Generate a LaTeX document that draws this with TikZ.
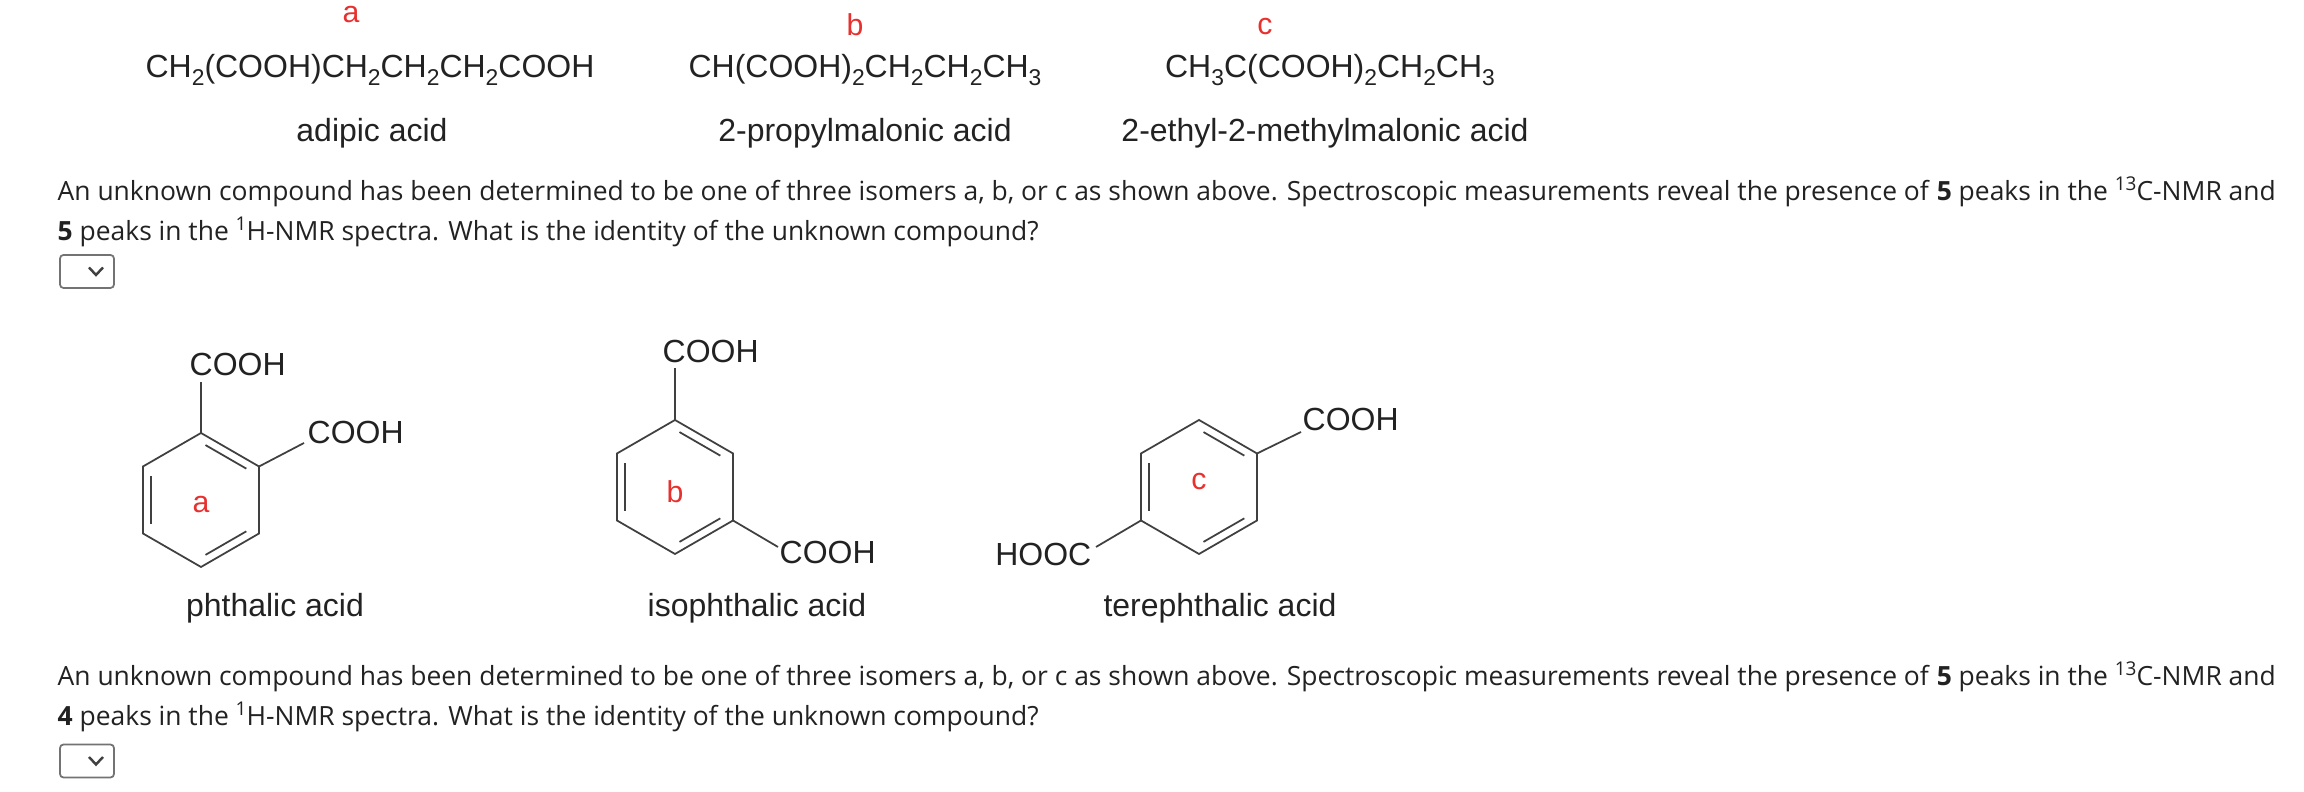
\documentclass[tikz,border=0pt]{standalone}
\usepackage{fontspec}
\setmainfont{Open Sans}
\newfontfamily\chemfont{Liberation Sans}
\usepackage{tikz}
\usetikzlibrary{calc}
\definecolor{txt}{HTML}{222222}
\definecolor{lbl}{HTML}{E8312F}
\newcommand{\chsub}[1]{\raisebox{-0.45ex}{\fontsize{6.5}{7}\selectfont #1}}
\newcommand{\chsup}[1]{\raisebox{0.75ex}{\fontsize{5.4}{6}\selectfont #1}}

\tikzset{
  chem/.style={font=\chemfont\fontsize{9.1}{11}\selectfont, text=txt, inner sep=0pt},
  para/.style={font=\fontsize{7.52}{10}\selectfont, text=txt, anchor=west, inner sep=0pt},
  tag/.style={font=\chemfont\fontsize{8.6}{10}\selectfont, text=lbl, inner sep=0pt},
  bond/.style={line width=0.5pt, draw=black!75},
  dropbox/.style={draw=black!55, rounded corners=1pt, line width=0.5pt, minimum width=0.54cm, minimum height=0.33cm, inner sep=0pt}
}

\begin{document}
\begin{tikzpicture}
\useasboundingbox[fill=white] (0,0) rectangle (23.04,7.92);

% top row: chains
\node[tag] (ta) at (3.51,7.77) {a};
\node[tag] (tb) at (8.55,7.67) {b};
\node[tag] (tc) at (12.65,7.65) {c};

\node[chem] (fa) at (3.70,7.22) {CH\chsub{2}(COOH)CH\chsub{2}CH\chsub{2}CH\chsub{2}COOH};
\node[chem] (fb) at (8.65,7.22) {CH(COOH)\chsub{2}CH\chsub{2}CH\chsub{2}CH\chsub{3}};
\node[chem] (fc) at (13.30,7.22) {CH\chsub{3}C(COOH)\chsub{2}CH\chsub{2}CH\chsub{3}};

\node[chem] (na) at (3.72,6.59) {adipic acid};
\node[chem] (nb) at (8.65,6.59) {2-propylmalonic acid};
\node[chem] (nc) at (13.25,6.59) {2-ethyl-2-methylmalonic acid};

\node[para] (q1a) at (0.57,6.00) {An unknown compound has been determined to be one of three isomers a, b, or c as shown above. Spectroscopic measurements reveal the presence of \textbf{5} peaks in the \chsup{13}C-NMR and};
\node[para] (q1b) at (0.57,5.60) {\textbf{5} peaks in the \chsup{1}H-NMR spectra. What is the identity of the unknown compound?};
\node[dropbox] (box1) at (0.87,5.205) {};
\draw[bond, line width=0.7pt] ($(box1.center)+(0.02,0.04)$) -- ($(box1.center)+(0.09,-0.035)$) -- ($(box1.center)+(0.16,0.04)$);

% rings
\begin{scope}[shift={(2.01,2.92)}] {
\def\r{0.67}
\draw[bond] (90:\r)--(30:\r)--(-30:\r)--(-90:\r)--(-150:\r)--(150:\r)--cycle;
\foreach \s/\e in {90/30,-30/-90,-150/150}
  \draw[bond] ($(\s:0.575)!0.09!(\e:0.575)$) -- ($(\e:0.575)!0.09!(\s:0.575)$);
\node[tag] (ra) at (0,-0.05) {a};
\node[chem, anchor=west] (ca1) at (-0.12,1.35) {COOH};
\node[chem, anchor=west] (ca2) at (1.06,0.67) {COOH};
\coordinate (va1) at (90:\r);
\coordinate (va2) at (30:\r);
\draw[bond] (va1) -- (0,1.18);
\draw[bond] (va2) -- (1.03,0.57);
}\end{scope}

\begin{scope}[shift={(6.75,3.05)}] {
\def\r{0.67}
\draw[bond] (90:\r)--(30:\r)--(-30:\r)--(-90:\r)--(-150:\r)--(150:\r)--cycle;
\foreach \s/\e in {90/30,-30/-90,-150/150}
  \draw[bond] ($(\s:0.575)!0.09!(\e:0.575)$) -- ($(\e:0.575)!0.09!(\s:0.575)$);
\node[tag] (rb) at (0,-0.05) {b};
\node[chem, anchor=west] (cb1) at (-0.13,1.35) {COOH};
\node[chem, anchor=west] (cb2) at (1.04,-0.66) {COOH};
\coordinate (vb1) at (90:\r);
\coordinate (vb2) at (-30:\r);
\draw[bond] (vb1) -- (0,1.19);
\draw[bond] (vb2) -- (1.03,-0.60);
}\end{scope}

\begin{scope}[shift={(11.99,3.05)}] {
\def\r{0.67}
\draw[bond] (90:\r)--(30:\r)--(-30:\r)--(-90:\r)--(-150:\r)--(150:\r)--cycle;
\foreach \s/\e in {90/30,-30/-90,-150/150}
  \draw[bond] ($(\s:0.575)!0.09!(\e:0.575)$) -- ($(\e:0.575)!0.09!(\s:0.575)$);
\node[tag] (rc) at (0,0.05) {c};
\node[chem, anchor=west] (cc1) at (1.03,0.67) {COOH};
\node[chem, anchor=east] (cc2) at (-1.07,-0.68) {HOOC};
\coordinate (vc1) at (30:\r);
\coordinate (vc2) at (-150:\r);
\draw[bond] (vc1) -- (1.02,0.55);
\draw[bond] (vc2) -- (-1.03,-0.60);
}\end{scope}

\node[chem] (pa) at (2.75,1.84) {phthalic acid};
\node[chem] (pb) at (7.57,1.84) {isophthalic acid};
\node[chem] (pc) at (12.20,1.84) {terephthalic acid};

\node[para] (q2a) at (0.57,1.15) {An unknown compound has been determined to be one of three isomers a, b, or c as shown above. Spectroscopic measurements reveal the presence of \textbf{5} peaks in the \chsup{13}C-NMR and};
\node[para] (q2b) at (0.57,0.75) {\textbf{4} peaks in the \chsup{1}H-NMR spectra. What is the identity of the unknown compound?};
\node[dropbox] (box2) at (0.87,0.31) {};
\draw[bond, line width=0.7pt] ($(box2.center)+(0.02,0.04)$) -- ($(box2.center)+(0.09,-0.035)$) -- ($(box2.center)+(0.16,0.04)$);

\end{tikzpicture}
\end{document}
